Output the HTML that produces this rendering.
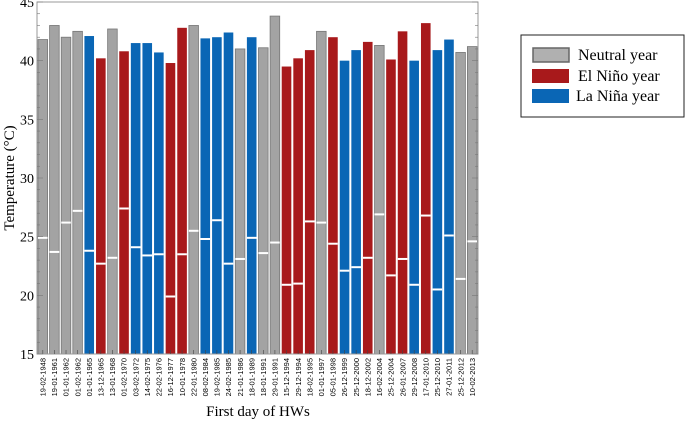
<!DOCTYPE html>
<html><head><meta charset="utf-8"><style>
body{margin:0;background:#fff;}
svg{display:block;font-family:"Liberation Serif",serif;}
</style></head><body>
<svg id="chart" width="685" height="424">
<g id="bars"></g>
<g id="axes"></g>
<text x="14" y="178" transform="rotate(-90 14 178)" text-anchor="middle" font-size="15">Temperature (°C)</text>
<text x="258" y="416" text-anchor="middle" font-size="15">First day of HWs</text>
<g>
<rect x="521" y="35" width="163" height="82" fill="#fff" stroke="#222" stroke-width="1"/>
<g><rect x="533" y="48" width="36" height="14" fill="#b0b0b0" stroke="#666" stroke-width="1.5"/><text x="578" y="60" font-size="16">Neutral year</text></g>
<g><rect x="532" y="69" width="37" height="14" fill="#a8191b"/><text x="578" y="81" font-size="16">El Niño year</text></g>
<g><rect x="532" y="89" width="37" height="14" fill="#0a66b5"/><text x="576" y="101" font-size="16">La Niña year</text></g>
</g>
</svg>
<script>
const dates=["19-02-1948","19-01-1961","01-01-1962","01-02-1962","01-01-1965","13-12-1965","13-01-1968","01-02-1970","03-02-1972","14-02-1975","22-02-1976","16-12-1977","10-01-1978","22-01-1980","08-02-1984","19-02-1985","24-02-1985","21-01-1986","18-01-1989","18-01-1991","29-01-1991","15-12-1994","29-12-1994","18-02-1995","01-01-1997","05-01-1998","26-12-1999","25-12-2000","18-12-2002","16-02-2004","25-12-2004","26-01-2007","29-12-2008","17-01-2010","25-12-2010","27-01-2011","25-12-2012","10-02-2013"];
const phase=["N","N","N","N","L","E","N","E","L","L","L","E","E","N","L","L","L","N","L","N","N","E","E","E","N","E","L","L","E","N","E","E","L","E","L","L","N","N"];
const tmax=[41.8,43.0,42.0,42.5,42.1,40.2,42.7,40.8,41.5,41.5,40.7,39.8,42.8,43.0,41.9,42.0,42.4,41.0,42.0,41.1,43.8,39.5,40.2,40.9,42.5,42.0,40.0,40.9,41.6,41.3,40.1,42.5,40.0,43.2,40.9,41.8,40.7,41.2];
const tmin=[24.9,23.7,26.2,27.2,23.8,22.7,23.2,27.4,24.1,23.4,23.5,19.9,23.5,25.5,24.8,26.4,22.7,23.1,24.9,23.6,24.5,20.9,21.0,26.3,26.2,24.4,22.1,22.4,23.2,26.9,21.7,23.1,20.9,26.8,20.5,25.1,21.4,24.6];
const yTicks=[15,20,25,30,35,40,45];
const NS="http://www.w3.org/2000/svg";
const X0=37,X1=478,Y0=354,Y1=2,YMIN=15,YMAX=45;
const n=dates.length, slot=(X1-X0)/n;
function y(v){return Y0-(v-YMIN)/(YMAX-YMIN)*(Y0-Y1);}
function x(i){return X0+i*slot;}
const colors={N:"#a3a3a3",E:"#a8191b",L:"#0a66b5"};
const bars=document.getElementById('bars');
const axes=document.getElementById('axes');
function mk(tag,attrs,parent){const e=document.createElementNS(NS,tag);for(const k in attrs)e.setAttribute(k,attrs[k]);parent.appendChild(e);return e;}
mk('rect',{x:X0,y:Y1,width:X1-X0,height:Y0-Y1,fill:'none',stroke:'#999','stroke-width':1},axes);
for(let i=0;i<n;i++){
  const r=mk('rect',{x:x(i)+1,y:y(tmax[i]),width:slot-2,height:Y0-y(tmax[i]),fill:colors[phase[i]],stroke:phase[i]==='N'?'#777':'none','stroke-width':0.8},bars);
  
  
  const t=mk('text',{x:0,y:0,'font-size':7.5,'font-family':'"Liberation Sans Narrow","Liberation Sans",sans-serif','text-anchor':'end',transform:`translate(${x(i)+slot/2+2.7},${Y0+4}) rotate(-90)`},axes);
  t.textContent=dates[i];
  
  
  mk('line',{x1:x(i)+slot/2,x2:x(i)+slot/2,y1:Y0,y2:Y0-4,stroke:'#444','stroke-width':0.6},axes);
}
for(let i=0;i<n;i++){
  const s=mk('line',{x1:x(i)+1,x2:x(i)+slot-1,y1:y(tmin[i]),y2:y(tmin[i]),stroke:'#fff','stroke-width':2},bars);
  
  
}
for(let v=YMIN;v<=YMAX;v+=1){
  const len=v%5===0?6:3;
  mk('line',{x1:X0,x2:X0+len,y1:y(v),y2:y(v),stroke:'#777','stroke-width':0.6},axes);
  mk('line',{x1:X1,x2:X1-len,y1:y(v),y2:y(v),stroke:'#777','stroke-width':0.6},axes);
}
yTicks.forEach(v=>{
  const t=mk('text',{x:X0-3,y:y(v)+5,'text-anchor':'end','font-size':14},axes);
  t.textContent=v;
  
  
});
</script>
</body></html>
